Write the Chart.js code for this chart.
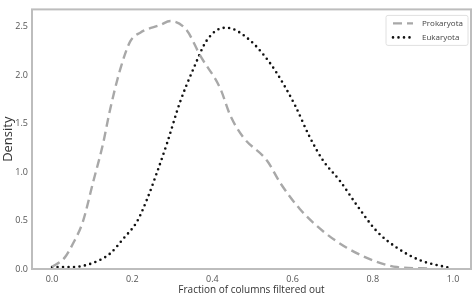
<!DOCTYPE html>
<html>
<head>
<meta charset="utf-8">
<script src="https://cdn.jsdelivr.net/npm/chart.js@4/dist/chart.umd.min.js"></script>
<style>
  html, body { margin: 0; padding: 0; background: #fff; }
</style>
</head>
<body>
<canvas id="myChart" width="474" height="296"></canvas>
<script>
// density curves
const seriesNames = ['Prokaryota', 'Eukaryota'];
const prokX = [0.0, 0.032, 0.052, 0.077, 0.102, 0.127, 0.145, 0.17, 0.195, 0.22, 0.27, 0.295, 0.335, 0.37, 0.42, 0.444, 0.477, 0.536, 0.569, 0.618, 0.676, 0.735, 0.80, 0.86, 0.94];
const prokY = [0.02, 0.12, 0.26, 0.49, 0.89, 1.29, 1.65, 2.06, 2.35, 2.44, 2.52, 2.56, 2.47, 2.2, 1.86, 1.59, 1.36, 1.12, 0.89, 0.62, 0.39, 0.22, 0.09, 0.02, 0.005];
const eukX = [0.0, 0.05, 0.10, 0.145, 0.177, 0.212, 0.237, 0.262, 0.287, 0.319, 0.352, 0.386, 0.43, 0.45, 0.494, 0.53, 0.561, 0.606, 0.643, 0.676, 0.718, 0.76, 0.81, 0.86, 0.918, 0.993];
const eukY = [0.02, 0.02, 0.06, 0.16, 0.31, 0.49, 0.72, 1.0, 1.3, 1.72, 2.06, 2.36, 2.49, 2.48, 2.36, 2.2, 2.02, 1.69, 1.36, 1.12, 0.91, 0.66, 0.39, 0.22, 0.09, 0.01];
const xTicks = [0.0, 0.2, 0.4, 0.6, 0.8, 1.0];
const yTicks = [0.0, 0.5, 1.0, 1.5, 2.0, 2.5];

const toPts = (xs, ys) => xs.map((x, i) => ({x: x, y: ys[i]}));
const frameColor = '#bdbdbd';
const font = '"Open Sans", sans-serif';

// frame around plot area + boxed legend inside it
const framePlugin = {
  id: 'frame',
  afterDraw(chart) {
    const ctx = chart.ctx, a = chart.chartArea;
    ctx.save();
    ctx.strokeStyle = frameColor;
    ctx.lineWidth = 2;
    ctx.strokeRect(a.left, a.top, a.right - a.left, a.bottom - a.top);

    // legend
    const bw = 82, bh = 30;
    const bx = a.right - bw - 3, by = a.top + 6;
    ctx.fillStyle = 'rgba(255,255,255,0.85)';
    ctx.strokeStyle = '#e0e0e0';
    ctx.lineWidth = 1;
    ctx.beginPath();
    ctx.roundRect(bx, by, bw, bh, 2);
    ctx.fill();
    ctx.stroke();
    ctx.font = '8px ' + font;
    ctx.textBaseline = 'middle';
    chart.data.datasets.forEach((ds, i) => {
      const ly = by + 8 + i * 14;
      ctx.strokeStyle = ds.borderColor;
      ctx.lineWidth = ds.borderWidth;
      ctx.lineCap = ds.borderCapStyle;
      ctx.setLineDash(ds.borderDash);
      ctx.beginPath();
      ctx.moveTo(bx + 7, ly);
      ctx.lineTo(bx + 27, ly);
      ctx.stroke();
      ctx.setLineDash([]);
      ctx.fillStyle = '#444';
      ctx.fillText(ds.label, bx + 36, ly);
    });
    ctx.restore();
  }
};

const ctx = document.getElementById('myChart').getContext('2d');
const myChart = new Chart(ctx, {
  type: 'line',
  data: {
    datasets: [{
      label: seriesNames[0],
      data: toPts(prokX, prokY),
      borderColor: '#a8a8a8',
      borderWidth: 2.4,
      borderDash: [9, 5],
      borderCapStyle: 'butt',
      pointRadius: 0,
      fill: false,
      cubicInterpolationMode: 'monotone'
    }, {
      label: seriesNames[1],
      data: toPts(eukX, eukY),
      borderColor: '#111',
      borderWidth: 2.6,
      borderDash: [0, 5.5],
      borderCapStyle: 'round',
      pointRadius: 0,
      fill: false,
      cubicInterpolationMode: 'monotone'
    }]
  },
  options: {
    responsive: false,
    animation: false,
    layout: { padding: { top: 1, right: 3, left: 0, bottom: 0 } },
    plugins: { legend: { display: false }, tooltip: { enabled: false } },
    scales: {
      x: {
        type: 'linear',
        min: -0.05,
        max: 1.045,
        grid: { display: false, drawTicks: false },
        border: { display: false },
        afterBuildTicks: s => { s.ticks = xTicks.map(v => ({value: v})); },
        afterFit: s => { s.height = 27; },
        ticks: {
          padding: 5,
          color: '#555',
          font: { family: font, size: 9 },
          callback: v => v.toFixed(1)
        },
        title: {
          display: true,
          text: 'Fraction of columns filtered out',
          color: '#333',
          font: { family: font, size: 10 },
          padding: { top: 0, bottom: 0 }
        }
      },
      y: {
        min: 0,
        max: 2.68,
        grid: { display: false, drawTicks: false },
        border: { display: false },
        afterBuildTicks: s => { s.ticks = yTicks.map(v => ({value: v})); },
        afterFit: s => { s.width = 32; },
        ticks: {
          padding: 4,
          color: '#555',
          font: { family: font, size: 9 },
          callback: v => v.toFixed(1)
        },
        title: {
          display: true,
          text: 'Density',
          color: '#333',
          font: { family: font, size: 13 },
          padding: { top: 0, bottom: 0 }
        }
      }
    }
  },
  plugins: [framePlugin]
});
</script>
</body>
</html>
